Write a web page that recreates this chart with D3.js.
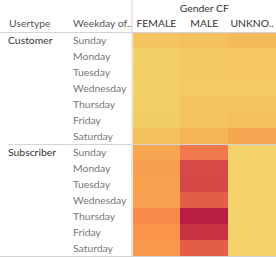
<!DOCTYPE html>
<html>
<head>
<meta charset="utf-8">
<script src="https://cdn.jsdelivr.net/npm/d3@7"></script>
<style>
  body { margin: 0; background: #fff; }
  text { font-family: Lato, sans-serif; font-size: 10.4px; }
</style>
</head>
<body>
<div id="chart"></div>
<script>
  'use strict';

  var usertypes = ['Customer', 'Subscriber'];
  var weekdays = ['Sunday', 'Monday', 'Tuesday', 'Wednesday', 'Thursday', 'Friday', 'Saturday'];
  var genders = ['FEMALE', 'MALE', 'UNKNOWN'];
  var genderLabels = ['FEMALE', 'MALE', 'UNKNO..'];

  // trip counts, one array per usertype/gender, Sunday..Saturday
  var customerFemale = [6500, 1700, 2300, 1700, 2300, 2900, 7700];
  var customerMale = [8300, 4700, 4700, 4100, 6500, 6500, 12500];
  var customerUnknown = [10700, 5300, 5300, 4100, 6500, 8300, 18500];
  var subscriberFemale = [19100, 21500, 20900, 20300, 29300, 26300, 24500];
  var subscriberMale = [35300, 48500, 49100, 42500, 60500, 54500, 42500];
  var subscriberUnknown = [1100, 1100, 1100, 1100, 1100, 1100, 1100];

  var series = {
    Customer: [customerFemale, customerMale, customerUnknown],
    Subscriber: [subscriberFemale, subscriberMale, subscriberUnknown]
  };

  var cells = [];
  usertypes.forEach(function(u) {
    genders.forEach(function(g, gi) {
      weekdays.forEach(function(d, di) {
        cells.push({ usertype: u, gender: g, day: d, value: series[u][gi][di] });
      });
    });
  });

  var width = 276,
    height = 257,
    gridLeft = 132.5,
    gridTop = 32,
    rowH = 16;

  var ext = d3.extent(cells, function(d) { return d.value; });
  var stops = [0, 0.2, 0.45, 0.6, 0.72, 0.82, 1];
  var color = d3.scaleLinear()
    .domain(stops.map(function(s) { return ext[0] + s * (ext[1] - ext[0]); }))
    .range(['#f3d16b', '#f5b456', '#fa9049', '#ef734c', '#e05848', '#d54345', '#b81e3f'])
    .interpolate(d3.interpolateRgb);

  var x = d3.scaleBand()
    .domain(genders)
    .range([gridLeft, width]);

  var yGroup = d3.scaleBand()
    .domain(usertypes)
    .range([gridTop, gridTop + usertypes.length * weekdays.length * rowH]);

  var yDay = d3.scaleBand()
    .domain(weekdays)
    .range([0, weekdays.length * rowH]);

  var svg = d3.select('#chart')
    .append('svg')
    .attr('width', width)
    .attr('height', height);

  svg.append('g')
    .selectAll('rect')
    .data(cells)
    .enter().append('rect')
    .attr('x', function(d) { return x(d.gender); })
    .attr('y', function(d) { return yGroup(d.usertype) + yDay(d.day); })
    .attr('width', x.bandwidth())
    .attr('height', yDay.bandwidth())
    .attr('shape-rendering', 'crispEdges')
    .style('fill', function(d) { return color(d.value); });

  // header
  svg.append('text')
    .attr('x', (gridLeft + width) / 2)
    .attr('y', 12)
    .attr('text-anchor', 'middle')
    .style('fill', '#333')
    .text('Gender CF');

  svg.selectAll('.col-label')
    .data(genders)
    .enter().append('text')
    .attr('class', 'col-label')
    .attr('x', function(d) { return x(d) + x.bandwidth() / 2; })
    .attr('y', 27)
    .attr('text-anchor', 'middle')
    .style('fill', '#333')
    .text(function(d, i) { return genderLabels[i]; });

  svg.append('text')
    .attr('x', 9)
    .attr('y', 27)
    .style('fill', '#555')
    .text('Usertype');

  svg.append('text')
    .attr('x', 73)
    .attr('y', 27)
    .style('fill', '#555')
    .text('Weekday of..');

  // row labels
  var groups = svg.selectAll('.group')
    .data(usertypes)
    .enter().append('g')
    .attr('class', 'group')
    .attr('transform', function(d) { return 'translate(0,' + yGroup(d) + ')'; });

  groups.append('text')
    .attr('x', 8)
    .attr('y', rowH / 2 + 4)
    .style('fill', '#333')
    .text(function(d) { return d; });

  groups.selectAll('.day')
    .data(weekdays)
    .enter().append('text')
    .attr('class', 'day')
    .attr('x', 73)
    .attr('y', function(d) { return yDay(d) + rowH / 2 + 4; })
    .style('fill', '#777')
    .text(function(d) { return d; });

  // divider lines
  var lineColor = '#d4d4d4';
  svg.append('line')
    .attr('x1', gridLeft - 0.5).attr('x2', gridLeft - 0.5)
    .attr('y1', 0).attr('y2', height)
    .style('stroke', lineColor);

  yGroup.domain().concat(['end']).forEach(function(u, i) {
    var yy = (u === 'end' ? yGroup.range()[1] : yGroup(u)) + 0.5;
    svg.append('line')
      .attr('x1', i === 1 ? 8 : 0).attr('x2', width)
      .attr('y1', yy).attr('y2', yy)
      .style('stroke', lineColor);
  });
</script>
</body>
</html>
